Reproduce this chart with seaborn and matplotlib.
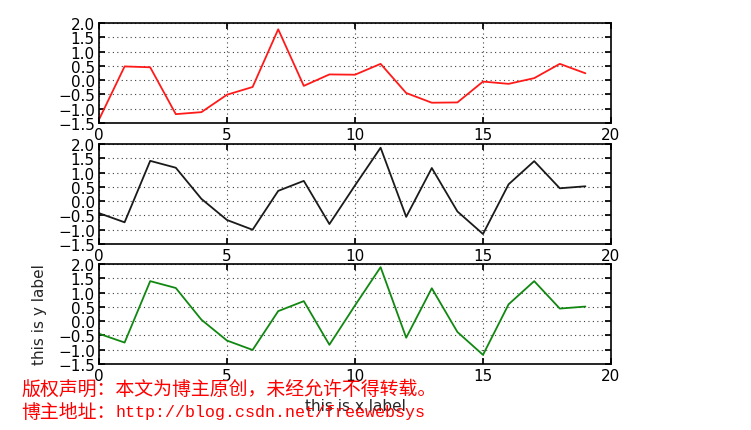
import matplotlib
matplotlib.use("Agg")
import matplotlib.pyplot as plt
import seaborn as sns

# data
x_vals = list(range(20))
red_vals = [-1.38, 0.48, 0.45, -1.19, -1.12, -0.51, -0.24, 1.78, -0.20, 0.20,
            0.19, 0.57, -0.45, -0.79, -0.78, -0.05, -0.13, 0.07, 0.57, 0.24]
black_vals = [-0.42, -0.74, 1.41, 1.17, 0.08, -0.66, -1.00, 0.36, 0.71, -0.80,
              0.55, 1.87, -0.55, 1.16, -0.36, -1.15, 0.59, 1.40, 0.45, 0.52]
green_vals = [-0.44, -0.75, 1.40, 1.16, 0.05, -0.68, -1.01, 0.35, 0.70, -0.83,
              0.55, 1.89, -0.58, 1.15, -0.38, -1.18, 0.59, 1.40, 0.44, 0.51]
x_ticks = [0, 5, 10, 15, 20]
y_ticks = [-1.5, -1.0, -0.5, 0.0, 0.5, 1.0, 1.5, 2.0]

series = [(red_vals, "#ff1a1a"), (black_vals, "#1a1a1a"), (green_vals, "#118811")]

sns.set_theme(style="ticks", rc={
    "xtick.direction": "in", "ytick.direction": "in",
    "xtick.top": True, "ytick.right": True,
    "xtick.major.size": 4, "ytick.major.size": 4,
    "axes.linewidth": 1.2, "axes.edgecolor": "black",
})
plt.rcParams["font.family"] = ["DejaVu Sans"]

fig = plt.figure(figsize=(7.51, 4.31), dpi=100)
W, H = 751, 431
left, right = 99, 611
tops = [24, 145, 265]
axes = []
for top in tops:
    ax = fig.add_axes([left / W, 1 - (top + 100) / H, (right - left) / W, 100 / H])
    axes.append(ax)

for ax, (vals, col) in zip(axes, series):
    sns.lineplot(x=x_vals, y=vals, ax=ax, color=col, linewidth=1.3)
    ax.set_xlim(0, 20)
    ax.set_ylim(-1.5, 2.0)
    ax.set_xticks(x_ticks)
    ax.set_yticks(y_ticks)
    ax.tick_params(labelsize=11, pad=3, colors="black")
    ax.grid(True, linestyle=(0, (1, 3)), color="0.25", linewidth=0.8)

axes[2].set_ylabel("this is y label", fontsize=11, labelpad=8)
axes[2].set_xlabel("this is x label", fontsize=11, labelpad=11)

# watermark lines
fig.text(21 / W, 1 - 389 / H, "版权声明：本文为博主原创，未经允许不得转载。",
         color="red", fontsize=13.6, va="center",
         family=["Noto Sans CJK SC", "DejaVu Sans"])
fig.text(21 / W, 1 - 413 / H, "博主地址：",
         color="red", fontsize=13.6, va="center",
         family=["Noto Sans CJK SC", "DejaVu Sans"])
fig.text(116 / W, 1 - 413 / H, "http://blog.csdn.net/freewebsys",
         color="red", fontsize=12, va="center",
         family=["Liberation Mono", "DejaVu Sans Mono"])

fig.savefig("out.png", dpi=100)
